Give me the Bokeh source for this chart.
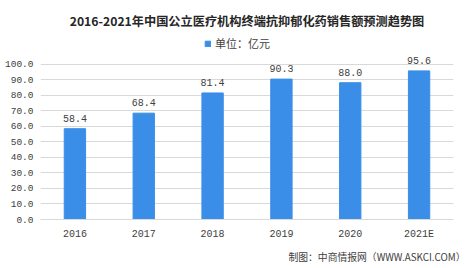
from bokeh.plotting import figure
from bokeh.models import (ColumnDataSource, LabelSet, Title, FixedTicker,
                          CustomJSTickFormatter, Legend, LegendItem)
from bokeh.embed import file_html
from bokeh.resources import INLINE
from bokeh.core.properties import value

years = ["2016", "2017", "2018", "2019", "2020", "2021E"]
sales = [58.4, 68.4, 81.4, 90.3, 88.0, 95.6]
y_ticks = [0, 10, 20, 30, 40, 50, 60, 70, 80, 90, 100]
title_text = "2016-2021年中国公立医疗机构终端抗抑郁化药销售额预测趋势图"
legend_text = "单位：亿元"
source_text = "制图：中商情报网（WWW.ASKCI.COM）"

BAR = "#3a8ee8"
FONT = "Noto Sans CJK SC"
NUM = "Liberation Mono"
TXT = "#404040"

src = ColumnDataSource(dict(x=years, y=sales, lab=["%.1f" % v for v in sales]))

p = figure(x_range=years, y_range=(0, 119), width=474, height=268,
           output_backend="svg", toolbar_location=None,
           min_border_left=40, min_border_right=21, min_border_top=34, min_border_bottom=48)
p.outline_line_color = None
p.background_fill_color = "white"
p.border_fill_color = "white"

r = p.vbar(x="x", top="y", width=0.31, source=src, color=BAR)

p.add_layout(LabelSet(x="x", y="y", text="lab", source=src, y_offset=7,
                      text_align="center", text_baseline="bottom",
                      text_font=value(NUM), text_font_size="10px", text_color=TXT))

p.yaxis.ticker = FixedTicker(ticks=y_ticks)
p.yaxis.formatter = CustomJSTickFormatter(code="return tick.toFixed(1);")
p.yaxis.axis_line_color = None
p.yaxis.major_tick_line_color = None
p.yaxis.minor_tick_line_color = None
p.yaxis.major_tick_out = 0
p.yaxis.major_label_standoff = 7
p.yaxis.major_label_text_font = NUM
p.yaxis.major_label_text_font_size = "9.5px"
p.yaxis.major_label_text_color = TXT

p.xaxis.axis_line_color = "#d9d9d9"
p.xaxis.major_tick_line_color = None
p.xaxis.minor_tick_line_color = None
p.xaxis.major_tick_out = 0
p.xaxis.major_label_standoff = 9
p.xaxis.major_label_text_font = NUM
p.xaxis.major_label_text_font_size = "10px"
p.xaxis.major_label_text_color = TXT

p.xgrid.grid_line_color = None
p.ygrid.grid_line_color = "#d9d9d9"
p.ygrid.ticker = FixedTicker(ticks=y_ticks)

legend = Legend(items=[LegendItem(label=legend_text, renderers=[r])],
                orientation="horizontal", location=(164, 168),
                glyph_width=7, glyph_height=7, label_text_font=FONT,
                label_text_font_size="11px", label_text_color=TXT,
                border_line_color=None, background_fill_alpha=0,
                padding=0, margin=0, spacing=4, label_standoff=4, label_height=12)
p.add_layout(legend)

p.title = Title(text=title_text, align="center", text_font=FONT, text_font_size="12.2px",
                text_font_style="bold", text_color="#262626", standoff=9)

p.add_layout(Title(text=source_text, align="right", text_font=FONT, text_font_size="9.8px",
                   text_font_style="normal", text_color=TXT, offset=-12), "below")

open("out.html", "w").write(file_html(p, INLINE))
